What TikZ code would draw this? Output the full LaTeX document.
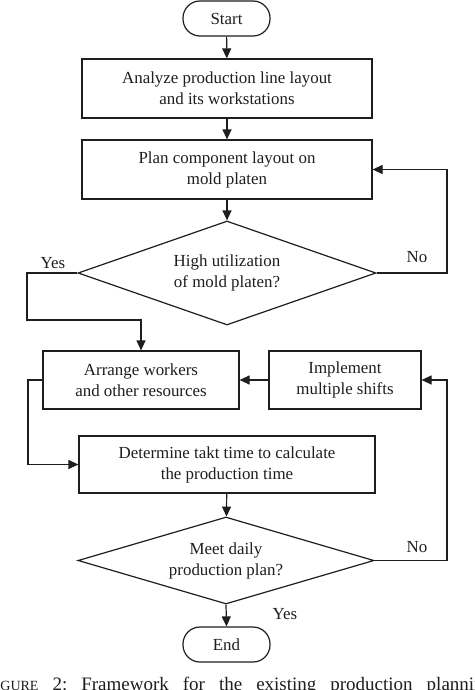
\documentclass[tikz,border=0pt]{standalone}
\usepackage{fontspec}
\setmainfont{Liberation Serif}
\usetikzlibrary{shapes.geometric,arrows.meta}
\definecolor{ink}{RGB}{30,30,30}
\begin{document}
\begin{tikzpicture}[x=1pt,y=-1pt,
  every node/.style={font=\fontsize{16.9}{21}\selectfont, text=ink},
  box/.style={draw=ink, line width=1.2pt, rectangle, align=center, inner sep=0pt},
  term/.style={draw=ink, line width=1.2pt, rectangle, rounded corners=17pt, minimum width=87pt, minimum height=35pt, inner sep=0pt},
  dec/.style={draw=ink, line width=1.2pt, diamond, shape aspect=2.86, align=center, inner sep=0pt},
  conn/.style={draw=ink, line width=1.2pt},
  arr/.style={conn, -{Triangle[length=10pt,width=9pt]}},
  lbl/.style={inner sep=0pt}
]
\useasboundingbox (0,0) rectangle (474,690);
\clip (0,0) rectangle (474,690);
\fill[white] (0,0) rectangle (474,690);

\node[term] (start) at (226.5,18.5) {Start};
\node[box, minimum width=290pt, minimum height=59pt] (b1) at (227,88.5) {Analyze production line layout\\and its workstations};
\node[box, minimum width=290pt, minimum height=59pt] (b2) at (227,169.5) {Plan component layout on\\mold platen};
\node[dec, minimum width=298pt, minimum height=104pt] (d1) at (227,273) {High utilization\\of mold platen?};
\node[box, minimum width=196pt, minimum height=58pt] (b3) at (141,380) {Arrange workers\\and other resources};
\node[box, minimum width=152pt, minimum height=58pt] (b4) at (345,380) {Implement\\multiple shifts};
\node[box, minimum width=296pt, minimum height=57pt] (b5) at (227,464.5) {Determine takt time to calculate\\the production time};
\node[dec, minimum width=296pt, minimum height=87pt] (d2) at (226,560.5) {Meet daily\\production plan?};
\node[term] (end) at (226.5,644.5) {End};

\coordinate (n1) at (447,273);
\coordinate (y1) at (27,320);
\coordinate (l1) at (28,380);
\coordinate (n2) at (447,560.5);

\draw[arr] (start) -- (b1);
\draw[arr] (b1) -- (b2);
\draw[arr] (b2) -- (d1);
\draw[arr] (d1.east) -- (n1) |- (b2.east);
\draw[arr] (d1.west) -| (y1) -| (b3.north);
\draw[arr] (b4.west) -- (b3.east);
\draw[arr] (b3.west) -- (l1) |- (b5.west);
\draw[arr] (b5) -- (d2);
\draw[arr] (d2.east) -- (n2) |- (b4.east);
\draw[arr] (d2.south) -- (end.north);

\node[lbl] (yes1) at (53,263) {Yes};
\node[lbl] (no1) at (417,257) {No};
\node[lbl] (no2) at (417,547) {No};
\node[lbl] (yes2) at (285,614) {Yes};

\node[lbl, anchor=base west, font=\fontsize{19}{19}\selectfont] (cap) at (-15,690.5) {\hbox to 508pt{F{\fontsize{14}{14}\selectfont IGURE}\hfill 2:\hfill Framework\hfill for\hfill the\hfill existing\hfill production\hfill planning}};
\end{tikzpicture}
\end{document}
